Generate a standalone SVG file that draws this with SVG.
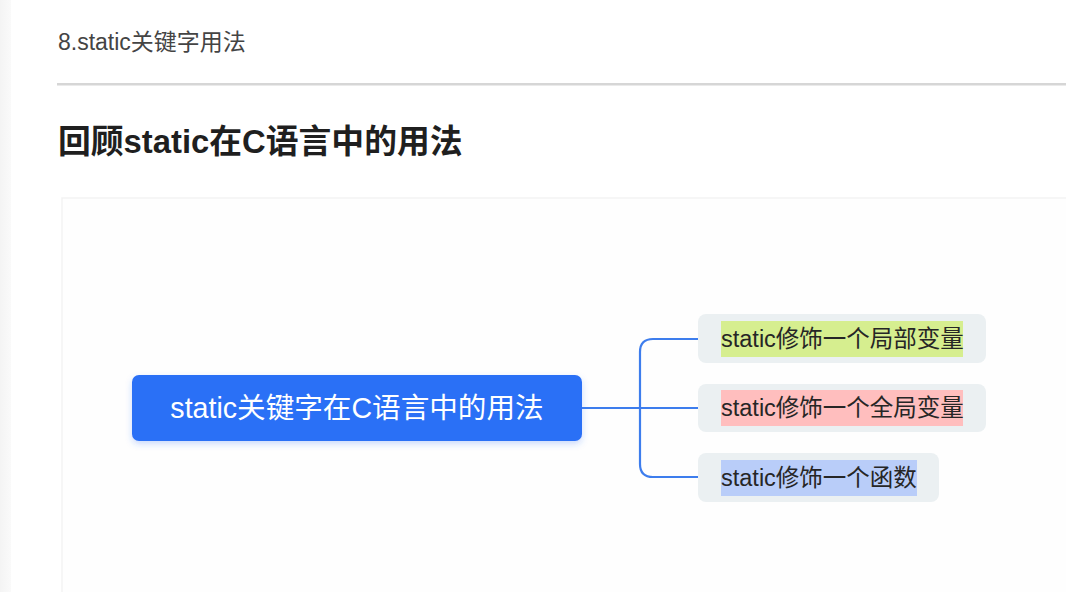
<svg xmlns="http://www.w3.org/2000/svg" width="1066" height="592" viewBox="0 0 1066 592">
<style>
.cjk{font-family:"Liberation Sans","Noto Sans CJK SC",sans-serif}
.hdr{font-size:23px;fill:#444}
.ttl{font-size:32.8px;font-weight:bold;fill:#1f1f1f}
.root-t{font-size:28.6px;fill:#fff}
.child-bg{fill:#ebf0f2}
.child-t{font-size:23.5px;fill:#262626}
.conn{fill:none;stroke:#3d7ded;stroke-width:2.2}
</style>
<defs>
<filter id="sh" x="-10%" y="-30%" width="120%" height="170%">
<feDropShadow dx="0" dy="3" stdDeviation="3" flood-color="#2c6ff6" flood-opacity="0.25"/>
</filter>
<linearGradient id="edge" x1="0" y1="0" x2="1" y2="0">
<stop offset="0" stop-color="#f4f4f4"/>
<stop offset="1" stop-color="#fafafa"/>
</linearGradient>
</defs>
<rect width="1066" height="592" fill="#fff"/>
<rect x="0" y="0" width="11" height="592" fill="url(#edge)"/>
<text class="cjk hdr" x="58" y="50">8.static关键字用法</text>
<rect x="57" y="83" width="1009" height="2.5" fill="#d6d6d6"/>
<text class="cjk ttl" x="58" y="153">回顾static在C语言中的用法</text>
<rect x="62" y="198" width="1010" height="400" fill="#fefefe" stroke="#f3f3f3" stroke-width="1.5"/>
<g id="connectors">
<path class="conn" d="M582,408 H698"/>
<path class="conn" d="M698,339 H653 Q640,339 640,352 V464 Q640,477 653,477 H698"/>
</g>
<g id="root">
<rect x="132" y="375" width="450" height="66" rx="7" fill="#2c6ff6" filter="url(#sh)"/>
<text class="cjk root-t" x="357" y="418" text-anchor="middle">static关键字在C语言中的用法</text>
</g>
<g id="child1">
<rect class="child-bg" x="698" y="314" width="288" height="49" rx="8"/>
<rect x="721" y="321" width="242" height="36" fill="#d6ee8f"/>
<text class="cjk child-t" x="721" y="347">static修饰一个局部变量</text>
</g>
<g id="child2">
<rect class="child-bg" x="698" y="384" width="288" height="48" rx="8"/>
<rect x="721" y="390" width="242" height="36" fill="#ffbebe"/>
<text class="cjk child-t" x="721" y="416">static修饰一个全局变量</text>
</g>
<g id="child3">
<rect class="child-bg" x="698" y="453" width="241" height="49" rx="8"/>
<rect x="721" y="460" width="196" height="36" fill="#b9cdf9"/>
<text class="cjk child-t" x="721" y="486">static修饰一个函数</text>
</g>
</svg>
